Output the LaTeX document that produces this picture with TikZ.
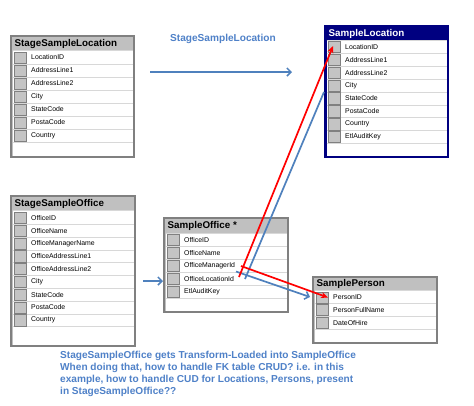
\documentclass[tikz,border=0pt]{standalone}
\usepackage{fontspec}
\newfontfamily\arial{Liberation Sans}
\usetikzlibrary{arrows.meta}
\definecolor{frgray}{HTML}{808080}
\definecolor{hdgray}{HTML}{C0C0C0}
\definecolor{sqgray}{HTML}{C4C4C4}
\definecolor{sepgray}{HTML}{D8D8D8}
\definecolor{navy}{HTML}{000080}
\definecolor{obl}{HTML}{4F81BD}
\definecolor{tbl}{HTML}{4F81C8}
\tikzset{
  frame/.style={draw=\frc, line width=1.8pt, fill=\hdc, inner sep=0pt, outer sep=0pt},
  rowtext/.style={anchor=west, inner sep=0pt, font=\arial\fontsize{6.9}{8}\selectfont},
  titletext/.style={anchor=west, inner sep=0pt, font=\arial\bfseries\fontsize{9.8}{11}\selectfont},
  sq/.style={fill=sqgray, draw=frgray, line width=0.5pt},
  barrow/.style={draw=obl, line width=1.7pt, -{Straight Barb[length=4pt,width=8pt,line width=1.5pt]}},
  rarrow/.style={draw=red, line width=1.7pt, -{Stealth[length=7pt,width=6pt]}},
  bline/.style={draw=obl, line width=1.7pt},
  note/.style={text=tbl, font=\arial\bfseries\fontsize{10.1}{11.9}\selectfont, inner sep=0pt}
}
% #1 name, #2 left, #3 top, #4 right, #5 bottom, #6 header bottom, #7 first row top, #8 row height, #9 title
\newcommand\dbtable[9]{%
  \pgfmathsetmacro\tw{#4-#2}%
  \pgfmathsetmacro\th{#5-#3}%
  \node[frame, minimum width=\tw pt, minimum height=\th pt, anchor=north west] (#1) at (#2,#3) {};
  \fill[white] ({#2+1.5},#6) rectangle ({#4-1.5},{#5-1.5});
  \draw[sepgray, line width=0.5pt] ({#2+1.5},#6) -- ({#4-1.5},#6);
  \foreach \t [count=\i] in \rowlist {%
    \pgfmathsetmacro\yy{#7+(\i-1)*#8}%
    \draw[sepgray, line width=0.6pt] ({#2+1.5},{\yy+#8}) -- ({#4-1.5},{\yy+#8});
    \path[sq] ({#2+3},{\yy+0.8}) rectangle ({#2+15},{\yy+#8-0.8});
    \node[rowtext] (#1-\i) at ({#2+20},{\yy+#8/2}) {\t};
  }
  \node[titletext, text=\ttc] (#1-title) at ({#2+3.5},{(#3+#6)/2+0.5}) {#9};
}
\begin{document}
\begin{tikzpicture}[x=1pt,y=-1pt]
\useasboundingbox (0,0) rectangle (474,405);
\fill[white] (0,0) rectangle (474,405);

\def\frc{frgray}\def\hdc{hdgray}\def\ttc{black}
\def\rowlist{LocationID,AddressLine1,AddressLine2,City,StateCode,PostaCode,Country}
\dbtable{ssl}{11}{36}{134}{157}{50}{51}{13}{StageSampleLocation}

\def\rowlist{OfficeID,OfficeName,OfficeManagerName,OfficeAddressLine1,OfficeAddressLine2,City,StateCode,PostaCode,Country}
\dbtable{sso}{11}{196}{135}{346}{210}{211.5}{12.8}{StageSampleOffice}

\def\rowlist{OfficeID,OfficeName,OfficeManagerId,OfficeLocationId,EtlAuditKey}
\dbtable{so}{164}{218}{288}{312}{233}{233.5}{12.9}{SampleOffice *}

\def\rowlist{PersonID,PersonFullName,DateOfHire}
\dbtable{sp}{313}{277}{437}{343}{290}{291}{12.7}{SamplePerson}

\def\frc{navy}\def\hdc{navy}\def\ttc{white}
\def\rowlist{LocationID,AddressLine1,AddressLine2,City,StateCode,PostaCode,Country,EtlAuditKey}
\dbtable{sl}{325}{26}{448}{157}{40}{40.3}{12.9}{SampleLocation}

% labels
\node[note] (lbl) at (223,38.5) {StageSampleLocation};
\node[note, anchor=north west, align=left] (txt) at (60,351) {StageSampleOffice gets Transform-Loaded into SampleOffice\\When doing that, how to handle FK table CRUD? i.e. in this\\example, how to handle CUD for Locations, Persons, present\\in StageSampleOffice??};

% connector end points
\coordinate (a1) at (150,72);
\coordinate (a2) at (292,72);
\coordinate (b1) at (143,281);
\coordinate (b2) at (163,281);
\coordinate (rl1) at (239,277);
\coordinate (rl2) at (333,46);
\coordinate (rp1) at (241,266);
\coordinate (rp2) at (328,297.5);
\coordinate (bp1) at (236,271.5);
\coordinate (bp2) at (310,297);
\coordinate (bl1) at (245,279);
\coordinate (bl2) at (324,92);

\draw[barrow] (a1) -- (a2);
\draw[barrow] (b1) -- (b2);
\draw[bline] (bl1) -- (bl2);
\draw[barrow] (bp1) -- (bp2);
\draw[rarrow] (rl1) -- (rl2);
\draw[rarrow] (rp1) -- (rp2);
\end{tikzpicture}
\end{document}
